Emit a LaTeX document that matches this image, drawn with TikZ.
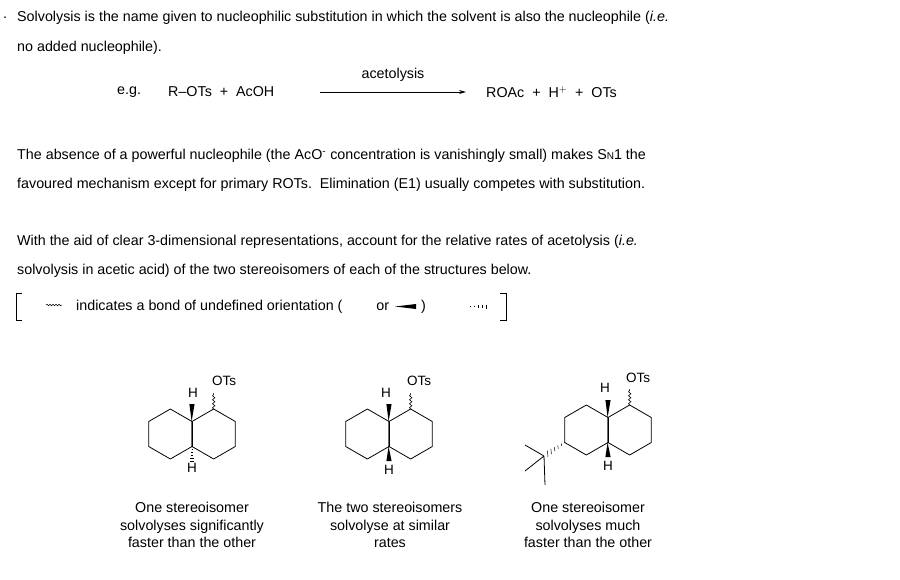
\documentclass[tikz,border=0pt]{standalone}
\usepackage{fontspec}
\setmainfont{Liberation Sans}
\usetikzlibrary{decorations.pathmorphing,arrows.meta,calc}
\newcommand\decalin[2]{%
 \foreach \cx in {-21.65,21.65}{
 \draw[bond,shift={(#1+\cx,#2)}] (0,-25)--(21.65,-12.5)--(21.65,12.5)--(0,25)--(-21.65,12.5)--(-21.65,-12.5)--cycle;}}
\newcommand\wedgeup[2]{\fill (#1-0.4,#2-12.5)--(#1+2.6,#2-30)--(#1-2.6,#2-30)--cycle;}
\newcommand\wedgedown[2]{\fill (#1-0.4,#2+12.5)--(#1+2.6,#2+27)--(#1-2.6,#2+27)--cycle;}
\begin{document}
\begin{tikzpicture}[x=1pt,y=-1pt,
 txt/.style={anchor=west,inner sep=0pt,font=\fontsize{14.3}{17}\selectfont},
 captxt/.style={align=center,inner sep=0pt,font=\fontsize{14.3}{17.5}\selectfont},
 lab/.style={inner sep=0pt,font=\fontsize{13.5}{15}\selectfont},
 bond/.style={line width=0.8pt},
 wavy/.style={line width=0.6pt,decorate,decoration={snake,amplitude=1.2pt,segment length=4pt}}]
\useasboundingbox (0,0) rectangle (900,579);
\node[txt] (dot) at (3,18) {.};
\node[txt] (l1) at (17,18) {Solvolysis is the name given to nucleophilic substitution in which the solvent is also the nucleophile (\textit{i.e.}};
\node[txt] (l2) at (17,48) {no added nucleophile).};
\node[txt] (eg) at (117,92) {e.g.};
\node[txt] (r1) at (168,92) {R--OTs \ + \ AcOH};
\coordinate (a1) at (320,92);
\coordinate (a2) at (466,92);
\draw[line width=0.8pt,-{Stealth[length=7pt,width=4pt]}] (a1)--(a2);
\node[lab] (acet) at (393,75) {\fontsize{14.3}{17}\selectfont acetolysis};
\node[txt] (p1) at (486,92) {ROAc \ + \ H$^{+}$ \ + \ OTs};
\node[txt] (l3) at (17,156) {The absence of a powerful nucleophile (the AcO\textsuperscript{-} concentration is vanishingly small) makes S{\fontsize{10}{12}\selectfont N}1 the};
\node[txt] (l4) at (17,185) {favoured mechanism except for primary ROTs.\ \ Elimination (E1) usually competes with substitution.};
\node[txt] (l5) at (17,242) {With the aid of clear 3-dimensional representations, account for the relative rates of acetolysis (\textit{i.e.}};
\node[txt] (l6) at (17,271) {solvolysis in acetic acid) of the two stereoisomers of each of the structures below.};
\draw[line width=0.6pt] (22,293)--(16,293)--(16,320)--(22,320);
\draw[line width=0.6pt] (500,293)--(506,293)--(506,320)--(500,320);
\draw[wavy,line width=0.5pt,decoration={amplitude=0.8pt,segment length=3pt}] (46,305)--(62,305);
\node[txt] (l7) at (76,307) {indicates a bond of undefined orientation (\hspace{30pt} or \hspace{28pt})};
\fill (395,306.5)--(416,304)--(416,309)--cycle;
\foreach \i in {0,...,5}{\draw[line width=0.6pt] (466+\i*4,306.5-0.4*\i)--(466+\i*4,306.5+0.4*\i);}
% molecule 1
\decalin{192}{434}
\draw[bond] (192,421.5)--(192,446.5);
\draw[wavy] (213.65,409)--(213.65,393);
\node[lab] (ots1) at (224,381) {OTs};
\wedgeup{192}{434}
\node[lab] (h1a) at (193,393) {H};
\foreach \i in {0,...,4}{\draw[line width=0.6pt] (192-0.4-0.5*\i,449+3*\i)--(192+0.4+0.5*\i,449+3*\i);}
\node[lab] (h1b) at (192,468) {H};
% molecule 2
\decalin{389}{434}
\draw[bond] (389,421.5)--(389,446.5);
\draw[wavy] (410.65,409)--(410.65,393);
\node[lab] (ots2) at (419,381) {OTs};
\wedgeup{389}{434}
\node[lab] (h2a) at (386,393) {H};
\wedgedown{389}{434}
\node[lab] (h2b) at (389,470) {H};
% molecule 3
\decalin{608}{430}
\draw[bond] (608,417.5)--(608,442.5);
\draw[wavy] (629.65,405)--(629.65,389);
\node[lab] (ots3) at (638,378) {OTs};
\wedgeup{608}{430}
\node[lab] (h3a) at (605,388) {H};
\wedgedown{608}{430}
\node[lab] (h3b) at (608,466) {H};
\coordinate (cq) at (544,456);
\foreach \i in {0,...,5}{\draw[line width=0.5pt] ($(564.7,442.5)!\i/6!(cq)$) ++(0,-0.6-0.5*\i) -- ++(0.5,1.2+1*\i);}
\draw[bond] (cq)--(525,445) (cq)--(525,471) (cq)--(545,485);
% captions
\node[captxt] (c1) at (192,525) {One stereoisomer\\solvolyses significantly\\faster than the other};
\node[captxt] (c2) at (390,525) {The two stereoisomers\\solvolyse at similar\\rates};
\node[captxt] (c3) at (588,525) {One stereoisomer\\solvolyses much\\faster than the other};
\end{tikzpicture}
\end{document}
